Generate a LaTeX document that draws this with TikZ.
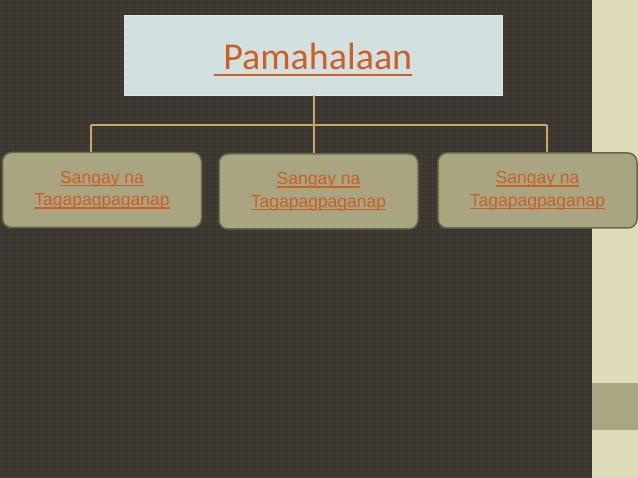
\documentclass[tikz,border=0pt]{standalone}
\usepackage{fontspec}
\setmainfont{Liberation Sans}
\newfontfamily\titlefont{Carlito}
\definecolor{bgdark}{RGB}{58,54,47}
\definecolor{bgline}{RGB}{72,68,60}
\definecolor{panel}{RGB}{223,219,186}
\definecolor{band}{RGB}{170,166,130}
\definecolor{topfill}{RGB}{211,224,224}
\definecolor{boxfill}{RGB}{168,165,128}
\definecolor{boxline}{RGB}{105,103,78}
\definecolor{orangetxt}{RGB}{204,94,38}
\definecolor{conn}{RGB}{204,166,104}
\newcommand\thul[3]{\setbox0\hbox{#1}\rlap{\rule[-#2]{\wd0}{#3}}\box0}
\tikzset{
  topbox/.style={draw=topfill!70!white, line width=0.8pt, fill=topfill, minimum width=378pt, minimum height=80pt, inner sep=0pt},
  branchbox/.style={draw=boxline, line width=1.5pt, fill=boxfill, rounded corners=9pt, minimum width=199pt, minimum height=75pt, inner sep=0pt, align=center, text=orangetxt, font=\fontsize{17.5}{22.5}\selectfont},
  connector/.style={draw=conn, line width=2pt},
}
\begin{document}
\begin{tikzpicture}[x=1pt,y=-1pt]
\useasboundingbox (0,0) rectangle (638,478);
% background
\fill[bgdark] (0,0) rectangle (592,478);
\foreach \i in {0,4,...,592} {\draw[bgline, line width=0.4pt, opacity=0.5] (\i,0) -- (\i,478);}
\foreach \j in {0,4,...,478} {\draw[bgline, line width=0.4pt, opacity=0.5] (0,\j) -- (592,\j);}
\fill[panel] (592,0) rectangle (638,478);
\fill[band] (592,383) rectangle (638,430);
% nodes
\node[topbox] (top) at (313,55) {};
\node[text=orangetxt, font=\titlefont\fontsize{38}{44}\selectfont, anchor=base] (title) at (313,70) {\thul{\hspace{0.25em}Pamahalaan}{6.5pt}{2.6pt}};
\coordinate (hub) at (314,125);
\coordinate (hl) at (91,125);
\coordinate (hr) at (547,125);
\node[branchbox] (b1) at (102,190) {\thul{Sangay na}{3pt}{1.4pt}\\\thul{Tagapagpaganap}{3pt}{1.4pt}};
\node[branchbox] (b2) at (318.5,191.5) {\thul{Sangay na}{3pt}{1.4pt}\\\thul{Tagapagpaganap}{3pt}{1.4pt}};
\node[branchbox] (b3) at (537.5,190.5) {\thul{Sangay na}{3pt}{1.4pt}\\\thul{Tagapagpaganap}{3pt}{1.4pt}};
% connectors
\draw[connector] (top.south -| hub) -- (hub);
\draw[connector] (hl) -- (hr);
\draw[connector] (hl) -- (hl |- b1.north);
\draw[connector] (hub) -- (hub |- b2.north);
\draw[connector] (hr) -- (hr |- b3.north);
\end{tikzpicture}
\end{document}
